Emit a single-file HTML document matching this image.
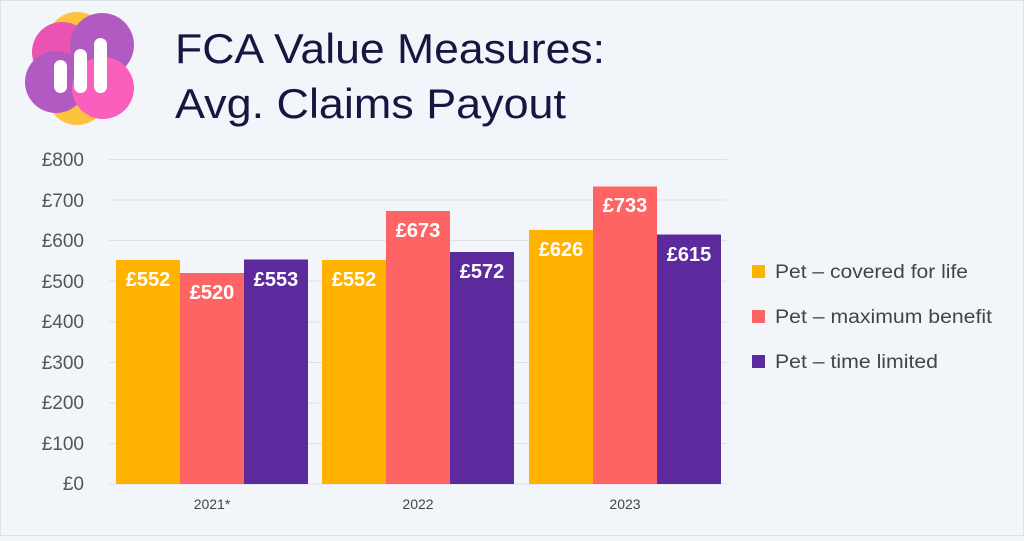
<!DOCTYPE html>
<html><head><style>
body{margin:0;background:#f2f5fa;}
svg text{font-family:"Liberation Sans",sans-serif;}
</style></head><body>
<svg width="1024" height="536" xmlns="http://www.w3.org/2000/svg">
<rect x="0.5" y="0.5" width="1023" height="535" fill="#f2f5fa" stroke="#dde1e6"/>
<g opacity="0.75">
<circle cx="77" cy="42" r="30" fill="#ffb300"/>
<circle cx="77" cy="95" r="30" fill="#ffb300"/>
<circle cx="62" cy="52" r="30" fill="#e91e9a"/>
<circle cx="102" cy="45" r="32" fill="#9c27b0"/>
<circle cx="56" cy="82" r="31" fill="#9c27b0"/>
<circle cx="103" cy="88" r="31" fill="#ff2dab"/>
</g>
<rect x="54" y="60" width="13" height="33" rx="6.5" fill="#fff"/>
<rect x="74" y="49" width="13" height="44" rx="6.5" fill="#fff"/>
<rect x="94" y="38" width="13" height="55" rx="6.5" fill="#fff"/>
<text x="175" y="63" font-size="42" fill="#1a1440" textLength="430" lengthAdjust="spacingAndGlyphs">FCA Value Measures:</text>
<text x="175" y="118" font-size="42" fill="#1a1440" textLength="391" lengthAdjust="spacingAndGlyphs">Avg. Claims Payout</text>
<g stroke="#dde1e6" stroke-width="1">
<line x1="109" x2="727" y1="159.5" y2="159.5"/><line x1="109" x2="727" y1="200" y2="200"/>
<line x1="109" x2="727" y1="240.5" y2="240.5"/><line x1="109" x2="727" y1="281" y2="281"/>
<line x1="109" x2="727" y1="322" y2="322"/><line x1="109" x2="727" y1="362.5" y2="362.5"/>
<line x1="109" x2="727" y1="403" y2="403"/><line x1="109" x2="727" y1="443.5" y2="443.5"/>
<line x1="109" x2="727" y1="484" y2="484"/>
</g>
<g font-size="19" fill="#555" text-anchor="end">
<text x="84" y="166">£800</text><text x="84" y="207">£700</text><text x="84" y="247">£600</text>
<text x="84" y="288">£500</text><text x="84" y="328">£400</text><text x="84" y="369">£300</text>
<text x="84" y="409">£200</text><text x="84" y="450">£100</text><text x="84" y="490">£0</text>
</g>
<g>
<rect x="116" y="260" width="64" height="224" fill="#ffb300"/>
<rect x="180" y="273" width="64" height="211" fill="#ff6464"/>
<rect x="244" y="259.5" width="64" height="224.5" fill="#5c2a9d"/>
<rect x="322" y="260" width="64" height="224" fill="#ffb300"/>
<rect x="386" y="211" width="64" height="273" fill="#ff6464"/>
<rect x="450" y="252" width="64" height="232" fill="#5c2a9d"/>
<rect x="529" y="230" width="64" height="254" fill="#ffb300"/>
<rect x="593" y="186.5" width="64" height="297.5" fill="#ff6464"/>
<rect x="657" y="234.5" width="64" height="249.5" fill="#5c2a9d"/>
</g>
<g font-size="20" font-weight="bold" fill="#fff" text-anchor="middle">
<text x="148" y="286">£552</text><text x="212" y="299">£520</text><text x="276" y="286">£553</text>
<text x="354" y="286">£552</text><text x="418" y="237">£673</text><text x="482" y="278">£572</text>
<text x="561" y="256">£626</text><text x="625" y="212">£733</text><text x="689" y="261">£615</text>
</g>
<g font-size="14" fill="#444" text-anchor="middle">
<text x="212" y="509">2021*</text><text x="418" y="509">2022</text><text x="625" y="509">2023</text>
</g>
<rect x="752" y="265" width="13" height="13" fill="#ffb300"/>
<rect x="752" y="310" width="13" height="13" fill="#ff6464"/>
<rect x="752" y="355" width="13" height="13" fill="#5c2a9d"/>
<g font-size="19" fill="#444">
<text x="775" y="278" textLength="193" lengthAdjust="spacingAndGlyphs">Pet – covered for life</text>
<text x="775" y="323" textLength="217" lengthAdjust="spacingAndGlyphs">Pet – maximum benefit</text>
<text x="775" y="368" textLength="163" lengthAdjust="spacingAndGlyphs">Pet – time limited</text>
</g>
</svg>
</body></html>
